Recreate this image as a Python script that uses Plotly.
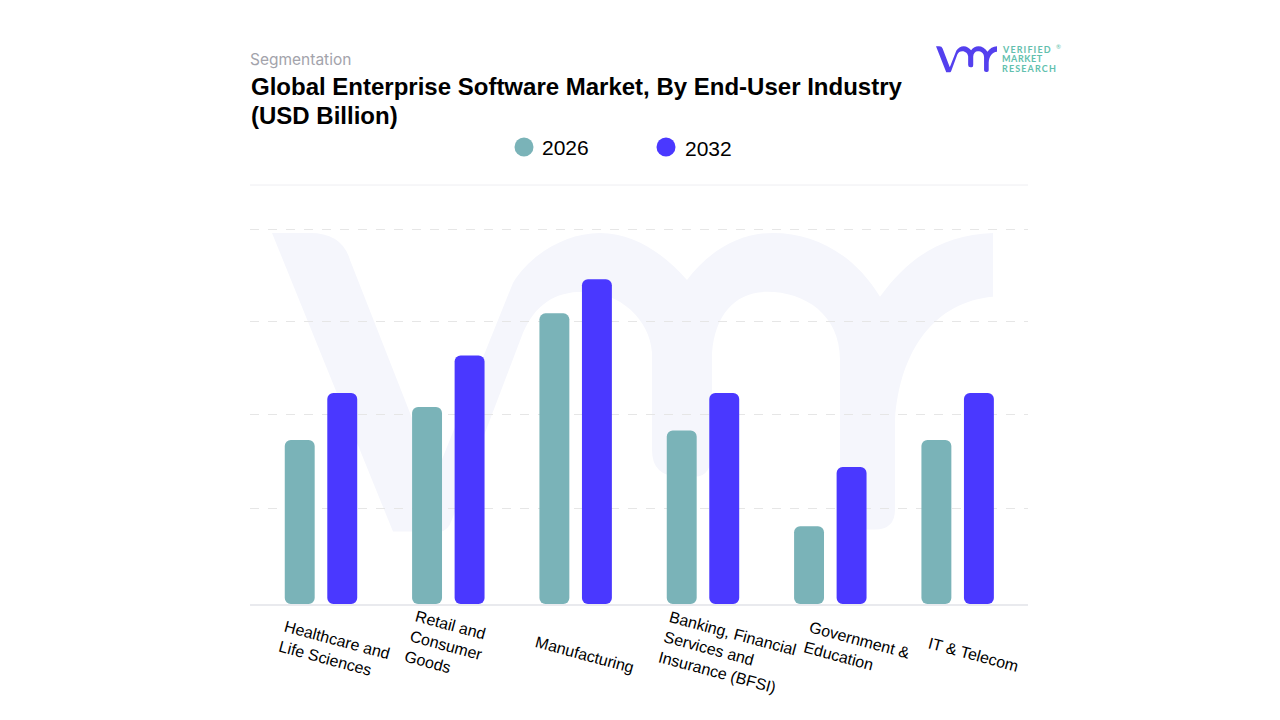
import plotly.graph_objects as go

# Values (gridlines taken as steps of about 20)
CATEGORIES = ['Healthcare and Life Sciences', 'Retail and Consumer Goods', 'Manufacturing',
              'Banking, Financial Services and Insurance (BFSI)', 'Government & Education', 'IT & Telecom']
TICK_LABELS = ['Healthcare and<br>Life Sciences', 'Retail and<br>Consumer<br>Goods', 'Manufacturing',
               'Banking, Financial<br>Services and<br>Insurance (BFSI)', 'Government &<br>Education', 'IT & Telecom']
VALUES_2026 = [35, 42, 62, 37, 16.6, 35]
VALUES_2032 = [45, 53, 69.3, 45, 29.2, 45]
GRID_TICKS = [20.3, 40.4, 60.3, 80]

TEAL = '#7ab3b8'
BLUE = '#4a38ff'
BAR_WIDTH = 0.235

# Page position of the plot area, in pixels
LEFT, RIGHT, TOP, BOTTOM = 250, 1028, 185, 604.5


def px(x, y):
    return (x - LEFT) / (RIGHT - LEFT), (BOTTOM - y) / (BOTTOM - TOP)


def vmr_path(ox, oy, sx, sy):
    """The vmr mark outline, traced in page pixels, then moved and scaled."""
    points = [
        ('M', 272, 233), ('L', 393, 532), ('L', 440, 532),
        ('Q', 448, 532, 452, 520), ('L', 523, 333),
        ('C', 535, 305, 555, 292, 583, 292), ('C', 620, 292, 650, 320, 652, 353),
        ('L', 652, 450), ('Q', 652, 477, 680, 477), ('L', 695, 477), ('Q', 712, 477, 712, 450),
        ('L', 712, 353), ('C', 715, 315, 735, 292, 767, 292), ('C', 805, 292, 840, 315, 840, 360),
        ('L', 840, 510), ('Q', 840, 530, 865, 530), ('L', 875, 530), ('Q', 895, 530, 895, 510),
        ('L', 895, 420), ('C', 900, 350, 935, 302, 993, 297),
        ('L', 993, 233), ('C', 945, 235, 910, 255, 880, 297),
        ('C', 855, 255, 815, 233, 773, 233), ('C', 740, 233, 710, 250, 687, 280),
        ('C', 665, 255, 635, 233, 600, 233), ('C', 565, 233, 530, 255, 513, 283),
        ('L', 435, 477), ('L', 350, 260), ('Q', 342, 233, 310, 233),
    ]
    out = []
    for p in points:
        coords = []
        for i in range(1, len(p), 2):
            x, y = px(ox + (p[i] - 272) * sx, oy + (p[i + 1] - 233) * sy)
            coords.append(f'{x:.5f},{y:.5f}')
        out.append(p[0] + ' '.join(coords))
    return ' '.join(out) + ' Z'


def text(x, y, label, size, color='#000000', family='Liberation Sans', anchor='left', angle=0, weight='normal'):
    xp, yp = px(x, y)
    return dict(x=xp, y=yp, xref='paper', yref='paper', text=label, showarrow=False, xanchor=anchor,
                yanchor='middle', textangle=angle, align='left',
                font=dict(size=size, color=color, family=family, weight=weight))


fig = go.Figure()
for name, values, color, offset in [('2026', VALUES_2026, TEAL, -0.282), ('2032', VALUES_2032, BLUE, 0.052)]:
    # a base just off zero makes plotly round the foot of the bar as well
    fig.add_trace(go.Bar(x=CATEGORIES, y=values, base=0.01, name=name, width=BAR_WIDTH, offset=offset,
                         marker=dict(color=color, cornerradius=6, line_width=0)))

shapes = [
    dict(type='path', path=vmr_path(272, 233, 1, 1), xref='paper', yref='paper',
         fillcolor='#f5f6fc', line_width=0, layer='below'),
    dict(type='path', path=vmr_path(936, 46, 0.0846, 0.087), xref='paper', yref='paper',
         fillcolor='#5440ee', line_width=0),
    dict(type='line', xref='paper', yref='paper', x0=0, x1=1, y0=1, y1=1, line=dict(color='#eeeef2', width=1)),
]
# Legend dots
for cx in [524, 666]:
    x0, y0 = px(cx - 9.5, 156.5)
    x1, y1 = px(cx + 9.5, 137.5)
    shapes.append(dict(type='circle', xref='paper', yref='paper', x0=x0, x1=x1, y0=y0, y1=y1, line_width=0,
                       fillcolor=TEAL if cx == 524 else BLUE))

annotations = [
    text(248, 59.5, 'Segmentation', 15.5, '#a3a3ab', 'Inter'),
    text(249, 86, 'Global Enterprise Software Market, By End-User Industry', 24, weight='bold'),
    text(249, 115, '(USD Billion)', 24, weight='bold'),
    text(540, 147, '2026', 21),
    text(683, 148, '2032', 21),
]

# Logo words
for label, y in [('\u200a\u200a'.join('VERIFIED'), 50),
                 ('\u200a'.join('MARKET'), 59.5),
                 ('\u200a\u200a'.join('RESEARCH'), 69)]:
    annotations.append(text(1000, y - 1, label, 9, '#62bfae', 'Lato', weight='bold'))
annotations.append(text(1054, 46.5, '\u00ae', 6, '#62bfae', 'Lato'))

# Slanted category labels, placed by their centres
LABEL_CENTRES = [(334, 651), (446, 646), (584, 655), (727, 654), (856, 651), (973, 655)]
for label, (cx, cy) in zip(TICK_LABELS, LABEL_CENTRES):
    annotations.append(text(cx, cy, label, 16, anchor='center', angle=15))

fig.update_layout(
    width=1280,
    height=720,
    margin=dict(l=LEFT, r=1280 - RIGHT, t=TOP, b=720 - BOTTOM, pad=0),
    barmode='overlay',
    showlegend=False,
    paper_bgcolor='white',
    plot_bgcolor='rgba(0,0,0,0)',
    shapes=shapes,
    annotations=annotations,
    xaxis=dict(type='category', range=[-0.555, 5.555], showticklabels=False, ticks='', showgrid=False,
               showline=True, linecolor='#e9eaee', linewidth=2, zeroline=False),
    yaxis=dict(range=[0, 89.4], tickvals=GRID_TICKS, showticklabels=False, ticks='', zeroline=False,
               showgrid=True, gridcolor='#e6e6e6', gridwidth=1, griddash='dash', showline=False),
)

fig.write_html('out.html', config=dict(displayModeBar=False), post_script="document.body.style.margin='0';")
